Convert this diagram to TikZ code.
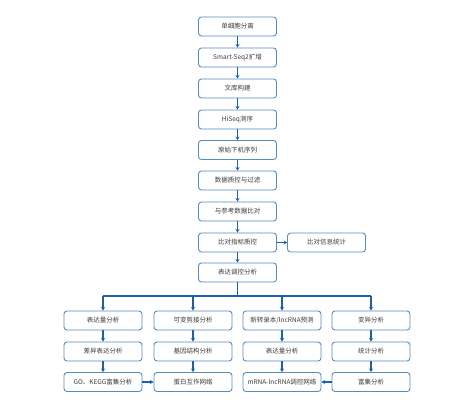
\documentclass[tikz,border=0pt]{standalone}
\usepackage{fontspec}
\setmainfont{Noto Sans CJK SC}
\usetikzlibrary{arrows.meta}
\definecolor{boxblue}{RGB}{84,140,196}
\definecolor{arrblue}{RGB}{30,96,168}
\definecolor{txt}{RGB}{60,60,60}
\tikzset{
  box/.style={draw=boxblue, line width=0.9pt, rounded corners=3pt, fill=white,
    minimum width=78pt, minimum height=19pt, inner sep=0pt, font=\fontsize{6.5pt}{7pt}\selectfont, text=txt},
  conn/.style={draw=arrblue, line width=1.2pt, -{Stealth[length=3.5pt,width=4pt]}},
  bus/.style={draw=arrblue, line width=1.2pt}
}
\begin{document}
\begin{tikzpicture}[x=1pt,y=-1pt]
\useasboundingbox (0,0) rectangle (474,408);
\node[box] (a1) at (237.5,26.5) {单细胞分离};
\node[box] (a2) at (237.5,57.5) {Smart-Seq2扩增};
\node[box] (a3) at (237.5,88.5) {文库构建};
\node[box] (a4) at (237.5,119.5) {HiSeq测序};
\node[box] (a5) at (237.5,150) {原始下机序列};
\node[box] (a6) at (237.5,180.5) {数据质控与过滤};
\node[box] (a7) at (237.5,211.5) {与参考数据比对};
\node[box] (a8) at (237.5,242.5) {比对指标质控};
\node[box] (s8) at (326.5,242.5) {比对信息统计};
\node[box] (a9) at (237.5,272.5) {表达调控分析};
\foreach \i/\j in {a1/a2,a2/a3,a3/a4,a4/a5,a5/a6,a6/a7,a7/a8,a8/a9} \draw[conn] (\i) -- (\j);
\draw[conn] (a8) -- (s8);
% bottom
\node[box] (b1) at (103,320.5) {表达量分析};
\node[box] (b2) at (193,320.5) {可变剪接分析};
\node[box] (b3) at (282,320.5) {新转录本/lncRNA预测};
\node[box] (b4) at (371,320.5) {变异分析};
\node[box] (c1) at (103,351.5) {差异表达分析};
\node[box] (c2) at (193,351.5) {基因结构分析};
\node[box] (c3) at (282,351.5) {表达量分析};
\node[box] (c4) at (371,351.5) {统计分析};
\node[box] (d1) at (103,382) {GO、KEGG富集分析};
\node[box] (d2) at (193,382) {蛋白互作网络};
\node[box] (d3) at (282,382) {mRNA-lncRNA调控网络};
\node[box] (d4) at (371,382) {富集分析};
\coordinate (j) at (237.5,296);
\draw[bus] (a9.south) -- (j);
\draw[bus] (b1.north |- j) -- (b4.north |- j);
\foreach \n in {b1,b2,b3,b4} \draw[conn] (\n.north |- j) -- (\n.north);
\foreach \i/\j in {b1/c1,c1/d1,b2/c2,c2/d2,b3/c3,c3/d3,b4/c4,c4/d4} \draw[conn] (\i) -- (\j);
\draw[conn] (d1) -- (d2);
\draw[conn] (d4) -- (d3);
\end{tikzpicture}
\end{document}
